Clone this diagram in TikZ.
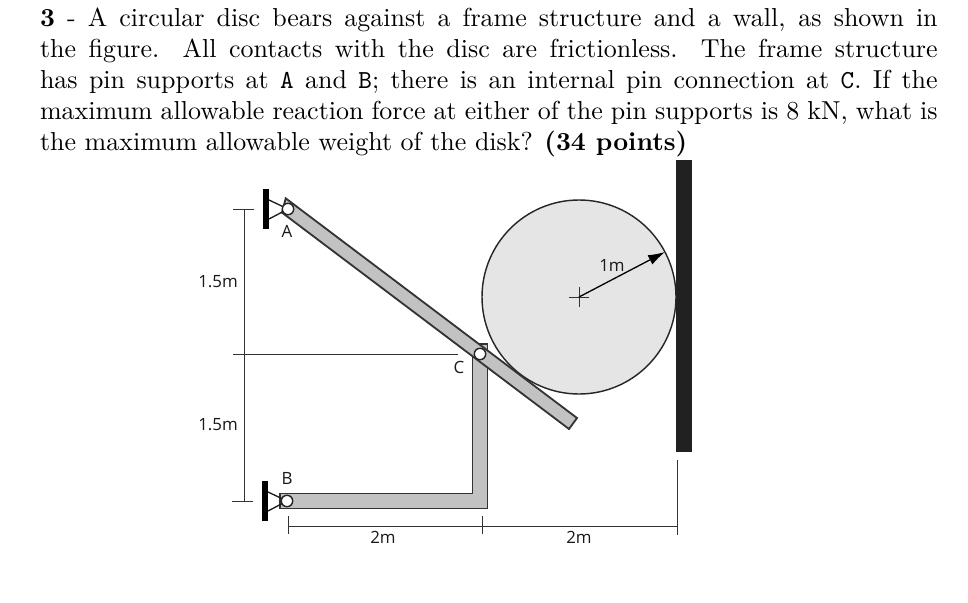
\documentclass[tikz,border=0pt]{standalone}
\usepackage{fontspec}
\newfontfamily\lblfont{Open Sans}
\usetikzlibrary{backgrounds}
\usetikzlibrary{calc,positioning,arrows.meta}

\begin{document}
\begin{tikzpicture}[
    x=0.385pt,y=-0.385pt,
    show background rectangle,
    tight background=0,
    background rectangle/.style={fill=white},
    dimline/.style={line width=0.35pt,black!80},
    barpart/.style={draw=black!80,fill=black!24,line width=0.7pt},
    strut/.style={draw=black!90,line width=0.5pt},
    plate/.style={fill=black,draw=none},
    pinhole/.style={circle,draw=black!85,fill=white,line width=0.55pt,inner sep=0pt,minimum size=4.4pt},
    lbl/.style={font=\lblfont\fontsize{6.5}{7}\selectfont,black!90,inner sep=0pt},
 ]
    \useasboundingbox (0,0) rectangle (968,602);

    \node[anchor=north west,inner sep=0pt,text width=345.6pt,align=justify] (Q) at (39.5,7) {\textbf{3} - A circular disc bears against a frame structure and a wall, as shown in the figure. All contacts with the disc are frictionless. The frame structure has pin supports at \texttt{A} and \texttt{B}; there is an internal pin connection at \texttt{C}. If the maximum allowable reaction force at either of the pin supports is 8 kN, what is the maximum allowable weight of the disk? \textbf{(34 points)}};

    \coordinate (O) at (579,297);
    \coordinate (R) at (665,252);
    \coordinate (A) at (288,209);
    \coordinate (B) at (287,501);
    \coordinate (C) at (480,354);

    % wall and disc
    \fill[black!87] (676,160) rectangle (692,452);
    \filldraw[fill=black!10,draw=black!85,line width=0.55pt] (O) circle (97);
    \draw[dimline] (O) ++(-10,0) -- ++(20,0);
    \draw[dimline] (O) ++(0,-10) -- ++(0,20);
    \draw[line width=0.5pt,black,-{Latex[length=6.5pt,width=4pt]}] (O) -- (R);
    \node[lbl] (Lr) at (612,265) {1m};

    % frame
    \filldraw[barpart] (280,493.5) -- (472.5,493.5) -- (472.5,344) -- (487.5,344) -- (487.5,508.5) -- (280,508.5) -- cycle;
    \coordinate (T1) at ($(A)+(-2.3,-10.7)$);
    \coordinate (T2) at ($(A)+(-6,3.6)$);
    \coordinate (T3) at ($(T2)+(287,216.4)$);
    \coordinate (T4) at ($(T1)+(291.3,219.7)$);
    \filldraw[barpart] (T1) -- (T2) -- (T3) -- (T4) -- cycle;

    % supports
    \fill[plate] (263,189) rectangle (269,229);
    \fill[plate] (262,481) rectangle (268,521);
    \coordinate (A1) at (269,200);
    \coordinate (A2) at (269,219);
    \coordinate (B1) at (268,492);
    \coordinate (B2) at (268,511);
    \draw[strut] (A1) -- (A) -- (A2);
    \draw[strut] (B1) -- (B) -- (B2);
    \node[pinhole] (PA) at (A) {};
    \node[pinhole] (PB) at (B) {};
    \node[pinhole] (PC) at (C) {};

    \node[lbl] (LA) at (287,231) {A};
    \node[lbl] (LB) at (287,478) {B};
    \node[lbl] (LC) at (459,367) {C};

    % dimensions
    \coordinate (V0) at (244,209);
    \coordinate (V1) at (244,501);
    \coordinate (H0) at (288,526);
    \coordinate (H1) at (482,526);
    \coordinate (H2) at (677,526);
    \draw[dimline] (V0) -- (V1);
    \draw[dimline] (V0) ++(-11,0) -- ++(21,0);
    \draw[dimline] (V1) ++(-12,0) -- ++(21,0);
    \draw[dimline] (233,354) -- (458,354);
    \draw[dimline] (H0) -- (H2);
    \draw[dimline] (H0) ++(0,-10) -- ++(0,18);
    \draw[dimline] (H1) ++(0,-10) -- ++(0,18);
    \draw[dimline] (H2) ++(0,-66) -- ++(0,75);
    \node[lbl] (L1) at (218,282) {1.5m};
    \node[lbl] (L2) at (218,425) {1.5m};
    \node[lbl] (L3) at (383,537) {2m};
    \node[lbl] (L4) at (579,537) {2m};
\end{tikzpicture}
\end{document}
